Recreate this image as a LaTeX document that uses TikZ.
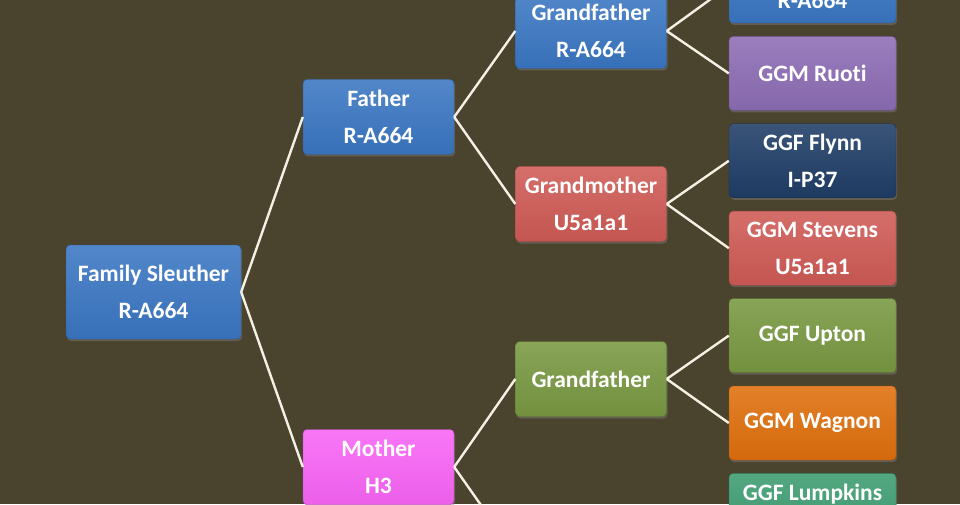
\documentclass[tikz,border=0pt]{standalone}
\usepackage{fontspec}
\setmainfont{Carlito}[Ligatures=NoCommon]
\usepackage{xcolor}
\usetikzlibrary{positioning,shadows}
\definecolor{bgbrown}{HTML}{4A432D}
\definecolor{linecream}{HTML}{F4F1E4}
\definecolor{famblue}{HTML}{3A76C2}
\definecolor{lavender}{HTML}{8C6CB4}
\definecolor{navy}{HTML}{1F3D66}
\definecolor{brickred}{HTML}{CF5A55}
\definecolor{hotpink}{HTML}{F864F6}
\definecolor{olivegreen}{HTML}{789841}
\definecolor{pumpkin}{HTML}{DF6F0C}
\definecolor{teal}{HTML}{3C9C70}
\tikzset{
    person/.style={rounded corners=4pt,inner sep=1pt,minimum width=151pt,minimum height=75pt,align=center,text=white,font=\bfseries\fontsize{23.5}{37}\selectfont,draw=#1!75!black,top color=#1!88!white,bottom color=#1!95!black,drop shadow={shadow xshift=1pt,shadow yshift=-2pt,opacity=0.45}},
    ggp/.style={person=#1,minimum width=167pt,minimum height=74pt},
    link/.style={draw=linecream,line width=2.4pt},
}
\begin{document}
\begin{tikzpicture}[x=1pt,y=1pt]
    \fill[bgbrown] (0,0) rectangle (960,504);
    \useasboundingbox (0,0) rectangle (960,504);

    % first two generations
    \node[person=famblue,minimum width=175pt,minimum height=94pt] (root) at (153.5,212) {Family Sleuther\\R-A664};
    \node[person=famblue] (fa) at (378.5,387) {Father\\R-A664};
    \node[person=hotpink] (mo) at (378.5,37) {Mother\\H3};

    % grandparents
    \node[person=famblue] (gf1) at (591,473) {Grandfather\\R-A664};
    \node[person=brickred] (gm1) at (591,300) {Grandmother\\U5a1a1};
    \node[person=olivegreen] (gf2) at (591,125) {Grandfather};
    \coordinate (gm2) at (516,-51);

    % great grandparents
    \node[ggp=famblue] (ggf1) at (812.5,518) {~\\[8pt]R-A664};
    \node[ggp=lavender] (ggm1) [below=13pt of ggf1] {GGM Ruoti};
    \node[ggp=navy] (ggf2) [below=13pt of ggm1] {GGF Flynn\\I-P37};
    \node[ggp=brickred] (ggm2) [below=13pt of ggf2] {GGM Stevens\\U5a1a1};
    \node[ggp=olivegreen] (ggf3) [below=13pt of ggm2] {GGF Upton};
    \node[ggp=pumpkin] (ggm3) [below=13pt of ggf3] {GGM Wagnon};
    \node[ggp=teal] (ggf4) [below=13pt of ggm3] {GGF Lumpkins\\~};

    \path[link]
        (root.east) edge (fa.west)
        (root.east) edge (mo.west)
        (fa.east) edge (gf1.west)
        (fa.east) edge (gm1.west)
        (mo.east) edge (gf2.west)
        (mo.east) edge (gm2)
        (gf1.east) edge (ggf1.west)
        (gf1.east) edge (ggm1.west)
        (gm1.east) edge (ggf2.west)
        (gm1.east) edge (ggm2.west)
        (gf2.east) edge (ggf3.west)
        (gf2.east) edge (ggm3.west)
        ;
\end{tikzpicture}
\end{document}
